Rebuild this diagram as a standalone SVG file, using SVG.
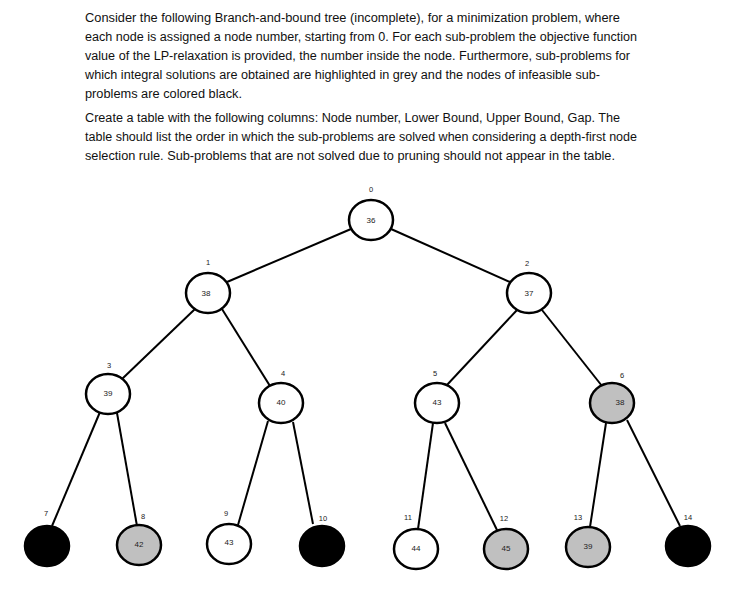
<svg xmlns="http://www.w3.org/2000/svg" width="730" height="598" viewBox="0 0 730 598">
<style>
.p{font-family:"Liberation Sans",Arial,sans-serif;font-size:12.5px;fill:#111}
.n{fill:#fff;stroke:#000;stroke-width:2.5}
.g{fill:#c0c0c0;stroke:#000;stroke-width:2.5}
.b{fill:#000;stroke:#000;stroke-width:2.5}
.v{font-family:"Liberation Sans",Arial,sans-serif;font-size:8px;fill:#222;text-anchor:middle}
.l{font-family:"Liberation Sans",Arial,sans-serif;font-size:7.5px;fill:#222;text-anchor:middle}
line{stroke:#000;stroke-width:2}
</style>
<rect width="730" height="598" fill="#fff"/>
<g id="text">
<text class="p" x="85" y="22" textLength="535" lengthAdjust="spacingAndGlyphs">Consider the following Branch-and-bound tree (incomplete), for a minimization problem, where</text>
<text class="p" x="85" y="41" textLength="552" lengthAdjust="spacingAndGlyphs">each node is assigned a node number, starting from 0. For each sub-problem the objective function</text>
<text class="p" x="85" y="60" textLength="545" lengthAdjust="spacingAndGlyphs">value of the LP-relaxation is provided, the number inside the node. Furthermore, sub-problems for</text>
<text class="p" x="85" y="79" textLength="515" lengthAdjust="spacingAndGlyphs">which integral solutions are obtained are highlighted in grey and the nodes of infeasible sub-</text>
<text class="p" x="85" y="98" textLength="157" lengthAdjust="spacingAndGlyphs">problems are colored black.</text>
<text class="p" x="85" y="122" textLength="535" lengthAdjust="spacingAndGlyphs">Create a table with the following columns: Node number, Lower Bound, Upper Bound, Gap. The</text>
<text class="p" x="85" y="141" textLength="552" lengthAdjust="spacingAndGlyphs">table should list the order in which the sub-problems are solved when considering a depth-first node</text>
<text class="p" x="85" y="160" textLength="530" lengthAdjust="spacingAndGlyphs">selection rule. Sub-problems that are not solved due to pruning should not appear in the table.</text>
</g>
<g id="connectors">
<line x1="351" y1="229" x2="227" y2="282"/>
<line x1="391" y1="229" x2="510" y2="282"/>
<line x1="195" y1="309" x2="122" y2="379"/>
<line x1="222" y1="309" x2="270" y2="386"/>
<line x1="517" y1="310" x2="446" y2="386"/>
<line x1="542" y1="310" x2="602" y2="386"/>
<line x1="100" y1="412" x2="52" y2="526"/>
<line x1="117" y1="413" x2="137" y2="526"/>
<line x1="268" y1="421" x2="238" y2="525"/>
<line x1="293" y1="422" x2="313" y2="524"/>
<line x1="433" y1="423" x2="418" y2="529"/>
<line x1="445" y1="423" x2="497" y2="530"/>
<line x1="606" y1="423" x2="590" y2="527"/>
<line x1="627" y1="420" x2="680" y2="526"/>
</g>
<g id="n0"><ellipse class="n" cx="371" cy="220" rx="22" ry="20"/><text class="v" x="371" y="223">36</text><text class="l" x="371" y="192">0</text></g>
<g id="n1"><ellipse class="n" cx="208" cy="293" rx="22" ry="20"/><text class="v" x="206" y="296">38</text><text class="l" x="208" y="265">1</text></g>
<g id="n2"><ellipse class="n" cx="529" cy="293" rx="22" ry="20"/><text class="v" x="529" y="296">37</text><text class="l" x="527" y="266">2</text></g>
<g id="n3"><ellipse class="n" cx="108" cy="394" rx="22" ry="20"/><text class="v" x="108" y="396">39</text><text class="l" x="109" y="368">3</text></g>
<g id="n4"><ellipse class="n" cx="281" cy="403" rx="22" ry="20"/><text class="v" x="281" y="405">40</text><text class="l" x="283" y="376">4</text></g>
<g id="n5"><ellipse class="n" cx="437" cy="403" rx="22" ry="20"/><text class="v" x="437" y="405">43</text><text class="l" x="435" y="376">5</text></g>
<g id="n6"><ellipse class="g" cx="612" cy="403" rx="22" ry="20"/><text class="v" x="620" y="405">38</text><text class="l" x="622" y="378">6</text></g>
<g id="n7"><ellipse class="b" cx="47" cy="546" rx="22" ry="20"/><text class="l" x="46" y="516">7</text></g>
<g id="n8"><ellipse class="g" cx="139" cy="545" rx="22" ry="20"/><text class="v" x="139" y="547">42</text><text class="l" x="143" y="519">8</text></g>
<g id="n9"><ellipse class="n" cx="229" cy="544" rx="22" ry="20"/><text class="v" x="229" y="545">43</text><text class="l" x="226" y="516">9</text></g>
<g id="n10"><ellipse class="b" cx="322" cy="546" rx="22" ry="20"/><text class="l" x="323" y="521">10</text></g>
<g id="n11"><ellipse class="n" cx="416" cy="549" rx="22" ry="20"/><text class="v" x="416" y="551">44</text><text class="l" x="408" y="520">11</text></g>
<g id="n12"><ellipse class="g" cx="506" cy="549" rx="22" ry="20"/><text class="v" x="506" y="551">45</text><text class="l" x="504" y="521">12</text></g>
<g id="n13"><ellipse class="g" cx="588" cy="547" rx="22" ry="20"/><text class="v" x="588" y="549">39</text><text class="l" x="578" y="520">13</text></g>
<g id="n14"><ellipse class="b" cx="688" cy="546" rx="22" ry="20"/><text class="l" x="688" y="520">14</text></g>
</svg>
